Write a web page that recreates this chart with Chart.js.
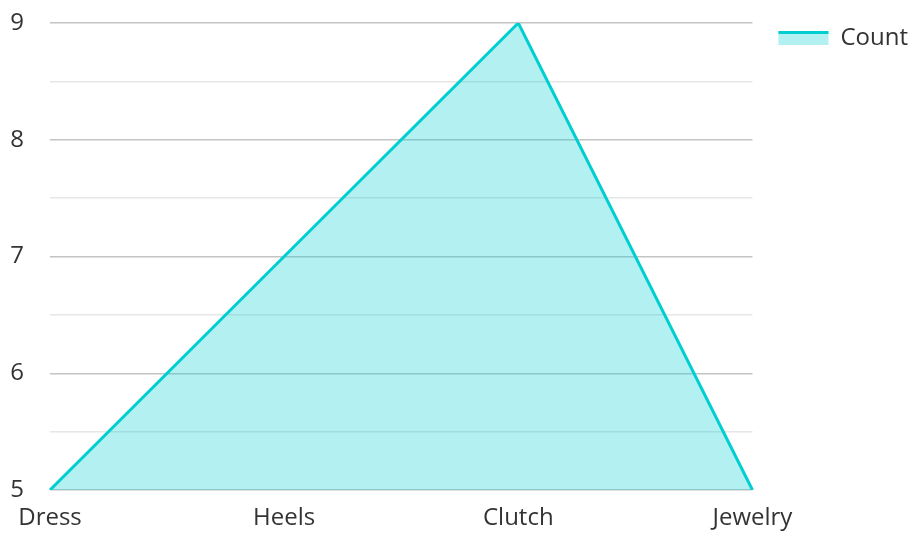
<!DOCTYPE html>
<html>
<head>
<meta charset="utf-8">
<script src="https://cdn.jsdelivr.net/npm/chart.js@4"></script>
<style>
  html, body { margin: 0; padding: 0; background: #fff; }
  #wrap { width: 910px; height: 533px; }
</style>
</head>
<body>
<div id="wrap"><canvas id="grafico" width="910" height="533"></canvas></div>
<script>
// dados do gráfico
const categorias = ['Dress', 'Heels', 'Clutch', 'Jewelry'];
const contagens = [5, 7, 9, 5];
const nomeSerie = 'Count';

const corLinha = '#00CED1';
const corArea = 'rgba(0, 206, 209, 0.3)';

Chart.defaults.font.family = '"Open Sans", sans-serif';
Chart.defaults.font.size = 24;
Chart.defaults.color = '#333';

// legenda: caixa preenchida com linha só no topo
const linhaLegenda = {
    id: 'linhaLegenda',
    afterDraw(chart) {
        const legend = chart.legend;
        if (!legend || !legend.legendHitBoxes) return;
        const ctx = chart.ctx;
        legend.legendHitBoxes.forEach(box => {
            ctx.save();
            ctx.fillStyle = corLinha;
            ctx.fillRect(box.left, box.top + (box.height - 14) / 2, 50, 3);
            ctx.restore();
        });
    }
};

new Chart(document.getElementById('grafico'), {
    type: 'line',
    data: {
        labels: categorias,
        datasets: [{
            label: nomeSerie,
            data: contagens,
            borderColor: corLinha,
            backgroundColor: corArea,
            borderWidth: 3,
            fill: 'origin',
            pointRadius: 0,
            tension: 0
        }]
    },
    options: {
        responsive: false,
        animation: false,
        layout: { padding: { top: 0, left: 10, right: -8, bottom: 0 } },
        plugins: {
            legend: {
                position: 'right',
                align: 'start',
                labels: {
                    boxWidth: 50,
                    boxHeight: 14,
                    padding: 26,
                    generateLabels: chart => {
                        const itens = Chart.defaults.plugins.legend.labels.generateLabels(chart);
                        itens.forEach(i => { i.lineWidth = 0; });
                        return itens;
                    }
                }
            },
            tooltip: { enabled: false }
        },
        scales: {
            x: {
                offset: false,
                grid: { display: false },
                border: { display: false },
                ticks: { padding: 6, maxRotation: 0 },
                afterFit: s => { s.paddingLeft = 0; s.paddingRight = 0; s.height = 43; }
            },
            y: {
                min: 5,
                max: 9,
                border: { display: false },
                grid: {
                    drawTicks: false,
                    color: ctx => Number.isInteger(ctx.tick.value) ? '#c4c4c4' : '#e6e6e6',
                    lineWidth: 1.5
                },
                ticks: {
                    stepSize: 0.5,
                    padding: 26,
                    autoSkip: false,
                    callback: v => Number.isInteger(v) ? v : ''
                },
                afterFit: s => { s.paddingTop = 23; s.width = 40; }
            }
        }
    },
    plugins: [linhaLegenda]
});
</script>
</body>
</html>
